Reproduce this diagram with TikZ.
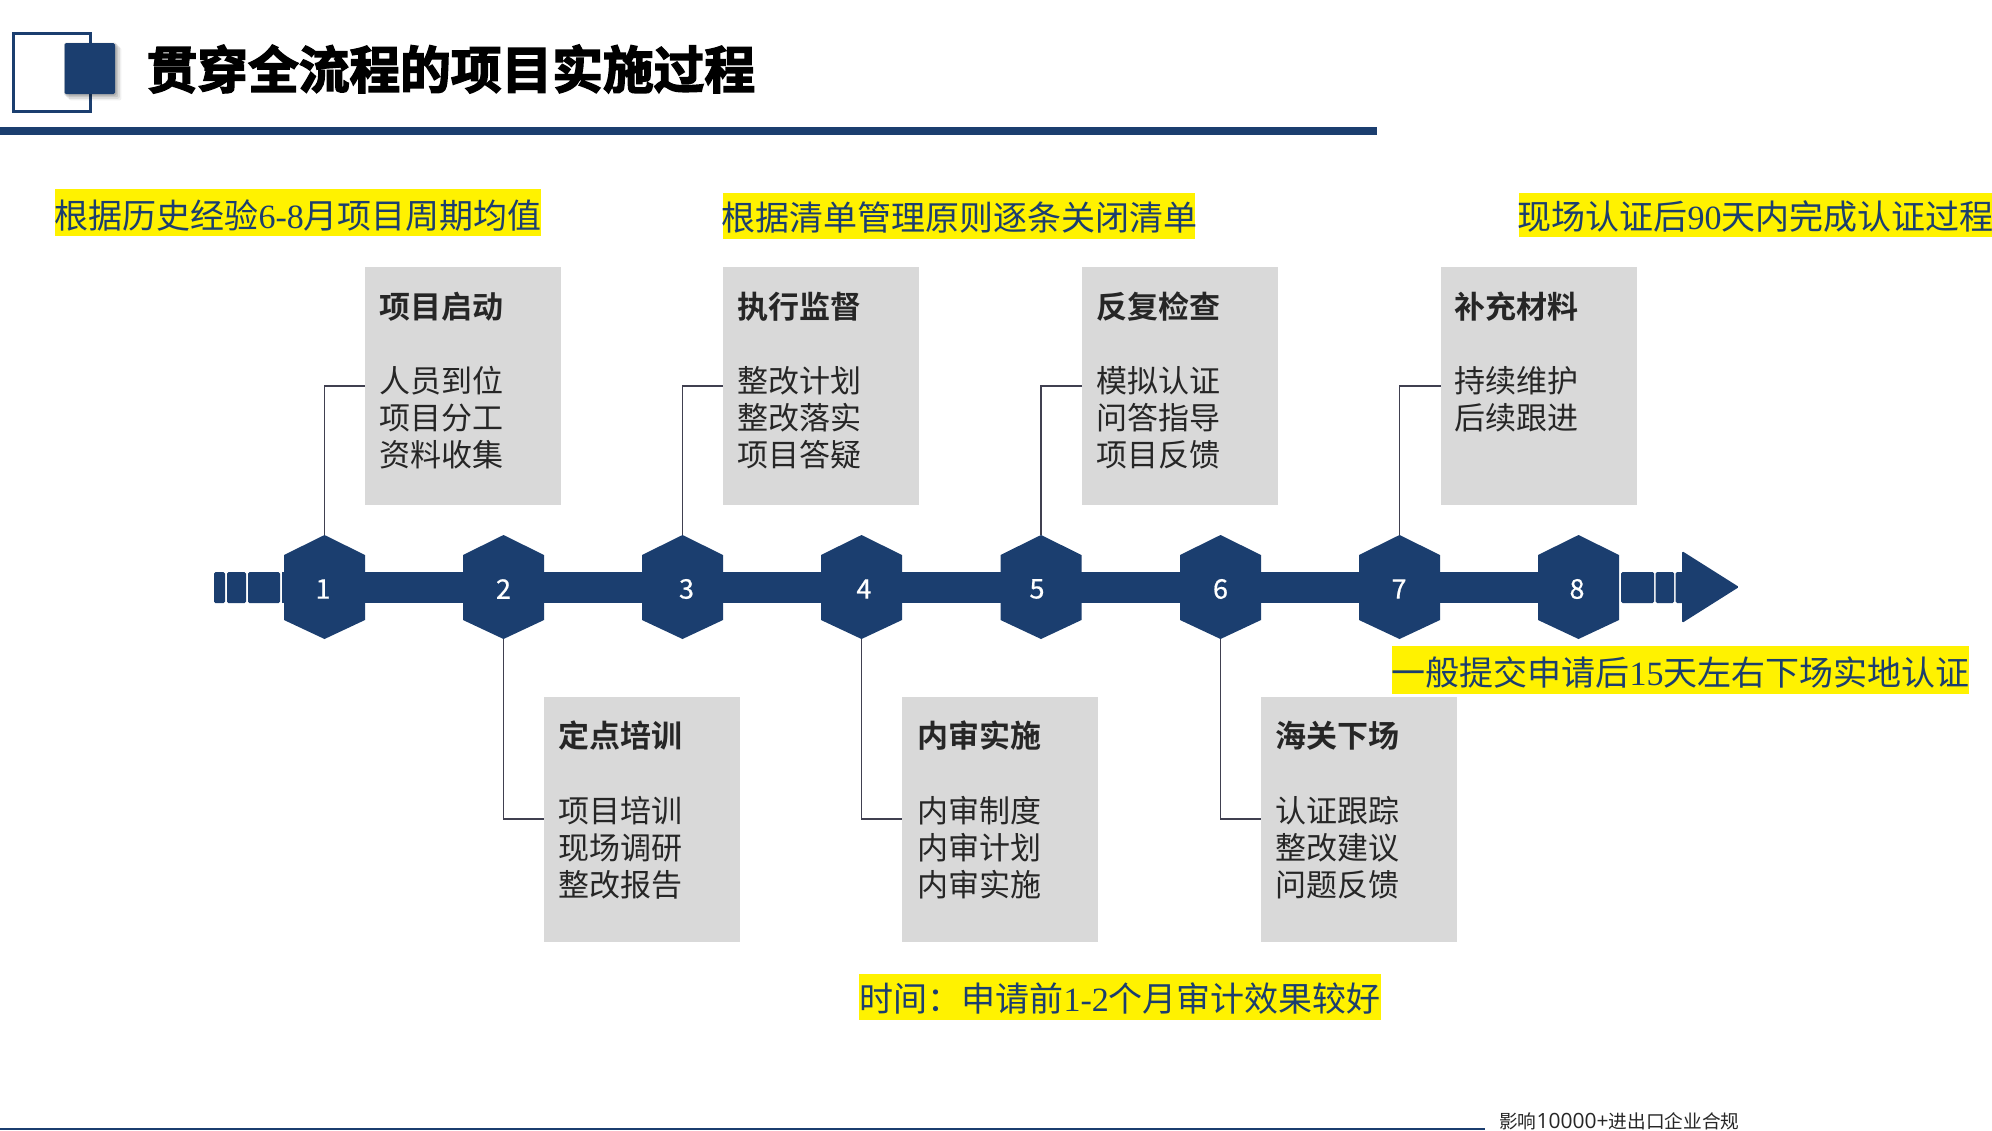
\documentclass[tikz,border=0pt]{standalone}
\usepackage{fontspec}
\setmainfont{Noto Sans CJK SC}[BoldFont={* Bold}]
\newfontfamily\cjkmain{Noto Sans CJK SC}
\newfontfamily\cjkbold{Noto Sans CJK SC Bold}
\newfontfamily\cjktitle[FakeBold=3]{Noto Sans CJK SC Bold}
\newfontfamily\numfont[FakeBold=0.6]{Noto Sans CJK SC}
\newfontfamily\latserif{Liberation Serif}
\newfontfamily\latsans{Open Sans}
\definecolor{navy}{HTML}{1B3E6F}
\definecolor{boxgray}{HTML}{D9D9D9}
\definecolor{linegray}{HTML}{404050}
\definecolor{ink}{HTML}{262626}
\tikzset{
  barpiece/.style={fill=navy,rounded corners=1.5pt},
  hexnum/.style={text=white,font=\numfont\fontsize{27}{27}\selectfont,inner sep=0pt},
  graybox/.style={fill=boxgray,inner sep=0pt,anchor=north west,minimum width=196pt},
  boxhead/.style={text=ink,font=\cjkbold\fontsize{31}{37}\selectfont,inner sep=0pt,anchor=west},
  boxbody/.style={text=ink,font=\cjkmain\fontsize{31}{37}\selectfont,inner sep=0pt,anchor=north west,align=left},
  yellowfill/.style={fill=yellow,inner sep=0pt,anchor=north west},
  yellowtext/.style={text=navy,font=\cjkmain\fontsize{34}{36}\selectfont,inner sep=0pt,align=center},
  link/.style={draw=linegray,line width=1.6pt},
}
\newcommand{\hexat}[2]{% centre x, name
  \fill[navy] (#1,535) -- (#1+40.5,555) -- (#1+40.5,620) -- (#1,639) -- (#1-40.5,620) -- (#1-40.5,555) -- cycle;
  \coordinate (#2top) at (#1,535);
  \coordinate (#2bot) at (#1,639);
}
\newcommand{\nm}[1]{{\latserif #1}}
\begin{document}
\begin{tikzpicture}[x=1pt,y=-1pt]
\useasboundingbox (0,0) rectangle (1992,1130);
% header
\draw[navy,line width=3pt] (13,33.5) rectangle (90.5,111);
\foreach \o/\a in {8/0.06,6/0.08,4/0.10,2/0.12}{
  \fill[black,opacity=\a,rounded corners=2pt] (64.5+\o*0.8-2,43+\o*0.8-2) rectangle (115+\o*0.8,94+\o*0.8);
}
\fill[navy,rounded corners=1.5pt] (64.5,43) rectangle (115,94);
\node[inner sep=0pt,anchor=west,font=\cjktitle\fontsize{50.7}{50}\selectfont,text=black] (title) at (146.5,69) {贯穿全流程的项目实施过程};
\fill[navy] (0,127) rectangle (1377,134.5);
% yellow tags
\node[yellowfill,minimum width=486pt,minimum height=47pt] (tag1) at (55,189) {};
\node[yellowtext] (tagtext1) at ([yshift=-2.5pt]tag1.center) {根据历史经验\nm{6-8}月项目周期均值};
\node[yellowfill,minimum width=472pt,minimum height=46pt] (tag2) at (723,193) {};
\node[yellowtext] (tagtext2) at ([yshift=-1.5pt]tag2.center) {根据清单管理原则逐条关闭清单};
\node[yellowfill,minimum width=473pt,minimum height=44pt] (tag3) at (1519,193) {};
\node[yellowtext] (tagtext3) at ([yshift=-1.5pt]tag3.center) {现场认证后\nm{90}天内完成认证过程};
\node[yellowfill,minimum width=577pt,minimum height=48pt] (tag4) at (1392,646) {};
\node[yellowtext] (tagtext4) at ([yshift=-2.5pt]tag4.center) {一般提交申请后\nm{15}天左右下场实地认证};
\node[yellowfill,minimum width=522pt,minimum height=46pt] (tag5) at (859,974) {};
\node[yellowtext] (tagtext5) at ([yshift=-1.5pt]tag5.center) {时间：申请前\nm{1-2}个月审计效果较好};
% axis bar
\fill[navy] (282,572) rectangle (1619,603);
\fill[barpiece] (214,572) rectangle (225,603);
\fill[barpiece] (227,572) rectangle (246,603);
\fill[barpiece] (248,572) rectangle (280,603);
\fill[barpiece] (1621,572) rectangle (1654,603);
\fill[barpiece] (1655.5,572) rectangle (1674,603);
\fill[barpiece] (1675.5,572) rectangle (1684,603);
\fill[navy,rounded corners=1.5pt] (1682,551) -- (1739,587) -- (1682,623) -- cycle;
% hexagons
\hexat{324.5}{h1}
\hexat{503.5}{h2}
\hexat{682.5}{h3}
\hexat{861.5}{h4}
\hexat{1041}{h5}
\hexat{1220.5}{h6}
\hexat{1399.5}{h7}
\hexat{1578.5}{h8}
\node[hexnum] (n1) at (323,589) {1};
\node[hexnum] (n2) at (503.5,589) {2};
\node[hexnum] (n3) at (686.5,589) {3};
\node[hexnum] (n4) at (864,589) {4};
\node[hexnum] (n5) at (1037,589) {5};
\node[hexnum] (n6) at (1220.5,589) {6};
\node[hexnum] (n7) at (1399,589) {7};
\node[hexnum] (n8) at (1577,589) {8};
% boxes
\node[graybox,minimum height=238pt] (b1) at (365,267) {};
\node[graybox,minimum height=238pt] (b3) at (723,267) {};
\node[graybox,minimum height=238pt] (b5) at (1082,267) {};
\node[graybox,minimum height=238pt] (b7) at (1440.5,267) {};
\node[graybox,minimum height=245pt] (b2) at (544,696.5) {};
\node[graybox,minimum height=245pt] (b4) at (902,696.5) {};
\node[graybox,minimum height=245pt] (b6) at (1261,696.5) {};
% connectors
\draw[link] (h1top) |- (b1.west);
\draw[link] (h3top) |- (b3.west);
\draw[link] (h5top) |- (b5.west);
\draw[link] (h7top) |- (b7.west);
\draw[link] (h2bot) |- (b2.west |- 0,819);
\draw[link] (h4bot) |- (b4.west |- 0,819);
\draw[link] (h6bot) |- (b6.west |- 0,819);
% box text
\node[boxhead] (t1) at (379,306.5) {项目启动};
\node[boxbody] (x1) at (379,366.5) {人员到位\\项目分工\\资料收集};
\node[boxhead] (t3) at (737,306.5) {执行监督};
\node[boxbody] (x3) at (737,366.5) {整改计划\\整改落实\\项目答疑};
\node[boxhead] (t5) at (1096,306.5) {反复检查};
\node[boxbody] (x5) at (1096,366.5) {模拟认证\\问答指导\\项目反馈};
\node[boxhead] (t7) at (1454,306.5) {补充材料};
\node[boxbody] (x7) at (1454,366.5) {持续维护\\后续跟进};
\node[boxhead] (t2) at (558,736) {定点培训};
\node[boxbody] (x2) at (558,796.5) {项目培训\\现场调研\\整改报告};
\node[boxhead] (t4) at (917,736) {内审实施};
\node[boxbody] (x4) at (917,796.5) {内审制度\\内审计划\\内审实施};
\node[boxhead] (t6) at (1275,736) {海关下场};
\node[boxbody] (x6) at (1275,796.5) {认证跟踪\\整改建议\\问题反馈};
% footer
\fill[navy] (0,1127.5) rectangle (1485,1130);
\node[inner sep=0pt,anchor=west,text=ink,font=\cjkmain\fontsize{18.7}{20}\selectfont] (foot) at (1499,1121) {影响{\latsans\fontsize{21}{20}\selectfont 10000+}进出口企业合规};
\end{tikzpicture}
\end{document}
